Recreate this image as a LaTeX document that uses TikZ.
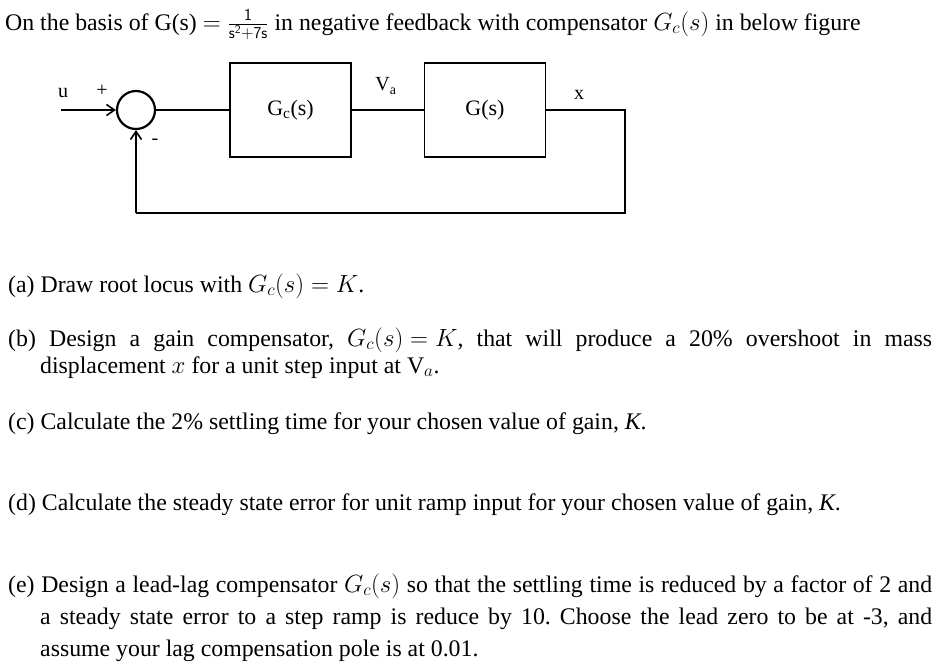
\documentclass[tikz,border=0pt]{standalone}
\usepackage{fontspec}
\setmainfont{Liberation Serif}
\usetikzlibrary{arrows.meta}
\frenchspacing
\begin{document}
\begin{tikzpicture}[x=1pt,y=-1pt,
  txt/.style={anchor=base west,inner sep=0pt,font=\fontsize{23.8}{28}\selectfont},
  blk/.style={draw,line width=1.8pt,minimum width=121pt,minimum height=94pt,inner sep=0pt,font=\fontsize{22}{26}\selectfont},
  lab/.style={inner sep=0pt,font=\fontsize{20}{24}\selectfont},
  ln/.style={line width=1.6pt},
  arr/.style={ln,-{Straight Barb[length=8pt,width=11pt]}}]
\useasboundingbox (0,0) rectangle (937,667);
% title
\node[txt] (title) at (5,30) {On the basis of G(s) $=\frac{\mathsf{1}}{\mathsf{s^2+7s}}$ in negative feedback with compensator $G_c(s)$ in below figure};
% diagram
\node[draw,circle,line width=2.2pt,minimum size=38pt,inner sep=0pt] (sum) at (136,110) {};
\node[blk] (gc) at (290.5,110) {G$_\mathrm{c}$(s)};
\node[blk,line width=1.1pt] (g) at (485,110) {G(s)};
\coordinate (in) at (61,110);
\coordinate (o1) at (625,110);
\coordinate (o2) at (625,213);
\coordinate (o3) at (136,213);
\draw[arr] (in) -- (sum.west);
\draw[ln] (sum.east) -- (gc.west);
\draw[ln] (gc.east) -- (g.west);
\draw[ln] (g.east) -- (o1) -- (o2) -- (o3);
\draw[arr] (o3) -- (sum.south);
\node[lab] (u) at (63,93) {u};
\node[lab] (plus) at (102,91) {+};
\node[lab] (minus) at (155,142) {-};
\node[lab] (va) at (386,86) {V$_\mathrm{a}$};
\node[lab] (x) at (579,95) {x};
% questions
\node[txt] (qa) at (8,292) {(a) Draw root locus with $G_c(s)=K$.};
\node[txt] (qb1) at (8,346) {\hbox to 924pt{(b) Design a gain compensator, ${G_c(s)=K}$, that will produce a 20\% overshoot in mass}};
\node[txt] (qb2) at (40,373) {displacement $x$ for a unit step input at V$_a$.};
\node[txt] (qc) at (8,429) {(c) Calculate the 2\% settling time for your chosen value of gain, \textit{K}.};
\node[txt] (qd) at (8,510) {(d) Calculate the steady state error for unit ramp input for your chosen value of gain, \textit{K}.};
\node[txt] (qe1) at (8,592) {\hbox to 924pt{(e) Design a lead-lag compensator ${G_c(s)}$ so that the settling time is reduced by a factor of 2 and}};
\node[txt] (qe2) at (40,624) {\hbox to 892pt{a steady state error to a step ramp is reduce by 10. Choose the lead zero to be at -3, and}};
\node[txt] (qe3) at (40,656) {assume your lag compensation pole is at 0.01.};
\end{tikzpicture}
\end{document}
